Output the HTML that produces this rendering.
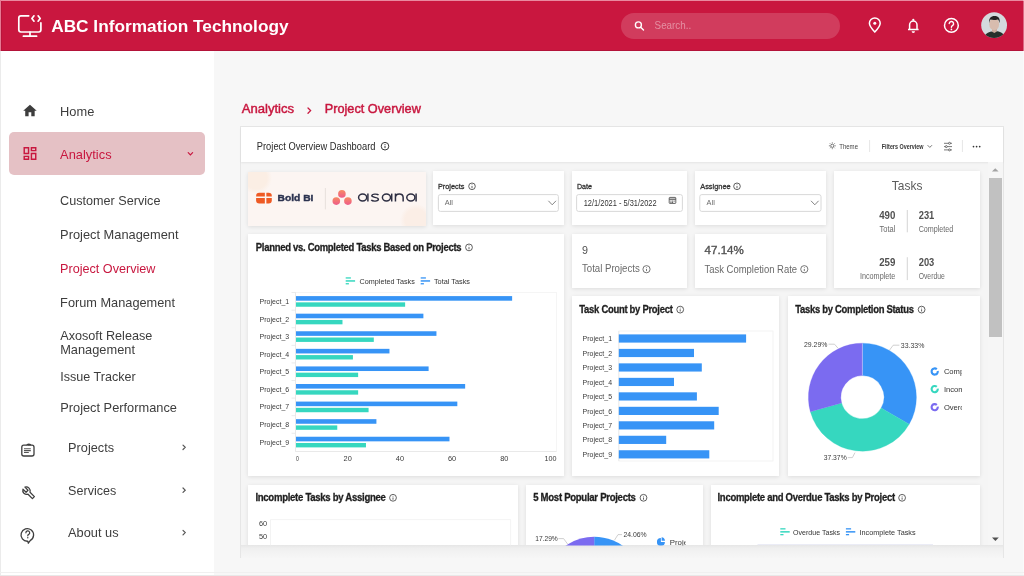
<!DOCTYPE html>
<html><head><meta charset="utf-8">
<style>
*{margin:0;padding:0;box-sizing:border-box}
html,body{width:1024px;height:576px;overflow:hidden;font-family:"Liberation Sans",sans-serif;background:#f7f7f7}
.a{position:absolute}
.card{position:absolute;background:#fff;box-shadow:0 1px 4px rgba(0,0,0,.10)}
svg{position:absolute;left:0;top:0;font-family:"Liberation Sans",sans-serif;will-change:transform}
</style></head><body>
<div class="a" style="left:0;top:0;width:1024px;height:51px;background:#c9173f"></div>
<div class="a" style="left:0;top:0;width:1024px;height:1px;background:#e98aa0"></div>
<div class="a" style="left:0;top:0;width:1px;height:51px;background:#e67a93"></div>
<div class="a" style="left:1px;top:1px;width:1px;height:49px;background:#b8143a"></div>
<div class="a" style="left:1px;top:49.5px;width:1022px;height:1.5px;background:#b31339"></div>
<div class="a" style="left:621px;top:13px;width:219px;height:25.5px;border-radius:13px;background:rgba(255,255,255,.16)"></div>
<div class="a" style="left:0;top:51px;width:214px;height:525px;background:#fff"></div>
<div class="a" style="left:8.5px;top:132px;width:196.5px;height:42.5px;border-radius:5px;background:#e5c1c5"></div>

<div class="a" style="left:240px;top:126px;width:763.5px;height:432px;border:1px solid #e6e6e6;background:#f5f5f5"></div>
<div class="a" style="left:241px;top:127px;width:761.5px;height:35px;background:#fff;box-shadow:0 1px 2px rgba(0,0,0,.07)"></div>
<div class="a" style="left:988px;top:162px;width:14.5px;height:383.5px;background:#f6f6f6"></div>
<div class="a" style="left:989px;top:178px;width:12.5px;height:159px;background:#c1c1c1"></div>

<div class="card" style="left:247.5px;top:172px;width:178px;height:53.5px;background:radial-gradient(circle at 8px 6px,#fbeee4 0,#fbeee4 11px,rgba(252,245,241,0) 16px),radial-gradient(circle at 168px 48px,#fbeee6 0,#fbeee6 11px,rgba(252,245,241,0) 16px),#fcf5f2"></div>
<div class="card" style="left:433px;top:171px;width:131px;height:54px"></div>
<div class="card" style="left:572px;top:171px;width:115px;height:54px"></div>
<div class="card" style="left:695px;top:171px;width:131px;height:54px"></div>
<div class="card" style="left:834px;top:171px;width:146px;height:117px"></div>
<div class="card" style="left:248px;top:234px;width:316px;height:242.2px"></div>
<div class="card" style="left:572px;top:234px;width:115px;height:54px"></div>
<div class="card" style="left:695px;top:234px;width:131px;height:54px"></div>
<div class="card" style="left:572px;top:296px;width:207.2px;height:180px"></div>
<div class="card" style="left:788px;top:296px;width:192px;height:180px"></div>
<div class="a" style="left:241px;top:162px;width:747px;height:383.5px;overflow:hidden">
<div class="card" style="left:7px;top:322.5px;width:269.5px;height:70px"></div>
<div class="card" style="left:285px;top:322.5px;width:176.5px;height:70px"></div>
<div class="card" style="left:470px;top:322.5px;width:268.5px;height:70px"></div>
</div>
<div class="a" style="left:241px;top:545px;width:762px;height:12.5px;background:linear-gradient(#e6e6e6,#efefef 25%,#f3f3f3 60%,#f6f6f6)"></div>
<div class="a" style="left:0;top:51px;width:1px;height:525px;background:#ebebeb"></div>
<div class="a" style="left:1022.5px;top:0;width:1.5px;height:576px;background:rgba(255,255,255,.35)"></div>
<div class="a" style="left:0;top:572px;width:1024px;height:1px;background:#f0f0f0"></div>
<div class="a" style="left:0;top:575px;width:1024px;height:1px;background:#e8e8e8"></div>
<svg width="1024" height="576" viewBox="0 0 1024 576">
<g fill="none" stroke="#fff" stroke-width="1.7" stroke-linecap="round" stroke-linejoin="round"><path d="M28.7 15.8H21a2.2 2.2 0 0 0-2.2 2.2V29.8a2.2 2.2 0 0 0 2.2 2.2H38.7a2.2 2.2 0 0 0 2.2-2.2V22.8"/><path d="M30 32.2V36.1M23.4 36.2H36.6"/><path d="M34 15.8L31.9 18.5L34 21.2M38.1 15.8L40.2 18.5L38.1 21.2"/></g>
<g fill="none" stroke="#fff" stroke-width="1.4" stroke-linecap="round"><circle cx="638.4" cy="24.9" r="3"/><path d="M640.7 27.2L643.5 30"/></g>
<g fill="none" stroke="#fff" stroke-width="1.5"><path d="M874.8 32C870.6 27.6 869.4 25.3 869.4 23.3a5.4 5.4 0 0 1 10.8 0c0 2-1.2 4.3-5.4 8.7z"/></g><circle cx="874.8" cy="23.3" r="1.5" fill="#fff"/>
<g fill="none" stroke="#fff" stroke-width="1.5" stroke-linejoin="round"><path d="M908 29.6H918.6M909.6 29.4V24.8a3.7 3.7 0 0 1 7.4 0V29.4"/></g><circle cx="913.3" cy="19.8" r="1.1" fill="#fff"/><path d="M911.6 31.3a1.7 1.7 0 0 0 3.4 0z" fill="#fff"/>
<circle cx="951.4" cy="25.4" r="6.9" fill="none" stroke="#fff" stroke-width="1.5"/><path d="M949.2 23.6a2.2 2.2 0 1 1 3.2 2c-.8.4-1 .9-1 1.7" fill="none" stroke="#fff" stroke-width="1.4" stroke-linecap="round"/><circle cx="951.4" cy="29.4" r=".85" fill="#fff"/>
<clipPath id="av"><circle cx="994.1" cy="25.2" r="12.9"/></clipPath><g clip-path="url(#av)"><rect x="980" y="12" width="28" height="28" fill="#d4dadd"/><rect x="992" y="28" width="5" height="5" fill="#c9ab9c"/><ellipse cx="994.2" cy="24.2" rx="4.9" ry="6.2" fill="#d8bcae"/><path d="M989.2 23.2C988.6 18.4 990.8 16.1 994.6 16.1C998.4 16.1 1000.4 18.6 999.6 23.2C999.2 21 998.6 19.6 997.6 19.4C995.6 20.2 992.6 20.2 990.6 19.6C989.8 20.2 989.4 21.6 989.2 23.2z" fill="#232323"/><path d="M983 40C984 34.4 987.6 32.2 991.6 31.4L994.4 33L997.2 31.2C1001.6 32 1005 34.2 1006 40z" fill="#26302b"/></g>
<path transform="translate(21.85 102.7) scale(0.675)" d="M10 20v-6h4v6h5v-8h3L12 3 2 12h3v8z" fill="#3d3d3d"/>
<path transform="translate(21.34 144.84) scale(0.72)" d="M19 5v2h-4V5h4M9 5v6H5V5h4m10 8v6h-4v-6h4M9 17v2H5v-2h4M21 3h-8v6h8V3zM11 3H3v10h8V3zm10 8h-8v10h8V11zm-10 4H3v6h8v-6z" fill="#c8173f"/>
<path d="M188.2 152.6L190.4 154.8L192.6 152.6" fill="none" stroke="#c8173f" stroke-width="1.2" stroke-linecap="round"/>
<g fill="none" stroke="#3d3d3d" stroke-width="1.3"><rect x="21.8" y="445.2" width="12.2" height="10.8" rx="2"/></g><path d="M26.3 445.2a2.5 1.6 0 0 1 5 0z" fill="#3d3d3d"/><circle cx="27.6" cy="446.4" r=".6" fill="#fff"/><g stroke="#555" stroke-width="1.1"><path d="M24 448.7H30.8M24 450.6H30.8M24 452.5H28.8"/></g>
<g transform="translate(28.6 492.8) rotate(-45)"><path d="M-1.4 -2.2V-6.6a4.2 4.2 0 0 0-2.2 3.6 4.2 4.2 0 0 0 2.2 3.6V6.8H1.4V0.6a4.2 4.2 0 0 0 2.2-3.6 4.2 4.2 0 0 0-2.2-3.6V-2.2z" fill="none" stroke="#3d3d3d" stroke-width="1.25" stroke-linejoin="round"/></g>
<path d="M27.8 541.2a6.3 6.3 0 1 1 2.6-.8L28.3 543.2z" fill="none" stroke="#3d3d3d" stroke-width="1.3" stroke-linejoin="round"/><path d="M25.9 532.8a1.9 1.9 0 1 1 2.8 1.6c-.6.3-.9.7-.9 1.4" fill="none" stroke="#3d3d3d" stroke-width="1.2" stroke-linecap="round"/><circle cx="27.8" cy="537.7" r=".7" fill="#3d3d3d"/>
<path d="M183 445.1L185.2 447.3L183 449.5" fill="none" stroke="#555" stroke-width="1.2" stroke-linecap="round"/>
<path d="M183 488.0L185.2 490.2L183 492.4" fill="none" stroke="#555" stroke-width="1.2" stroke-linecap="round"/>
<path d="M183 530.4L185.2 532.6L183 534.8000000000001" fill="none" stroke="#555" stroke-width="1.2" stroke-linecap="round"/>
<path d="M308 108L310.6 110.6L308 113.2" fill="none" stroke="#c8173f" stroke-width="1.3" stroke-linecap="round"/>
<circle cx="385" cy="146.2" r="3.8" fill="none" stroke="#333" stroke-width="1.0"/><path d="M385 145.89999999999998V148.1" stroke="#333" stroke-width="1.0"/><circle cx="385" cy="144.6" r="0.55" fill="#333"/>
<g stroke="#555" stroke-width="0.8" fill="none"><circle cx="832.3" cy="145.8" r="1.6"/><path d="M834.70 145.80L835.70 145.80"/><path d="M834.00 147.50L834.70 148.20"/><path d="M832.30 148.20L832.30 149.20"/><path d="M830.60 147.50L829.90 148.20"/><path d="M829.90 145.80L828.90 145.80"/><path d="M830.60 144.10L829.90 143.40"/><path d="M832.30 143.40L832.30 142.40"/><path d="M834.00 144.10L834.70 143.40"/></g>
<path d="M869.6 140V152M962.4 140V152" stroke="#e6e6e6" stroke-width="1"/>
<path d="M927.6 145.2L929.8 147.4L932 145.2" fill="none" stroke="#555" stroke-width="0.8"/>
<g stroke="#555" stroke-width="0.8"><path d="M944 143.3H952M944 146.6H952M944 149.9H952"/></g><g fill="#fff" stroke="#555" stroke-width="0.8"><circle cx="949.5" cy="143.3" r="1"/><circle cx="946.3" cy="146.6" r="1"/><circle cx="949.5" cy="149.9" r="1"/></g>
<circle cx="973.5" cy="146.6" r="0.85" fill="#333"/>
<circle cx="976.6" cy="146.6" r="0.85" fill="#333"/>
<circle cx="979.7" cy="146.6" r="0.85" fill="#333"/>
<rect x="256.1" y="192.8" width="15.7" height="10.6" rx="3.2" fill="#ee5a24"/><path d="M265.6 192V204.2M255.5 197.35H272.5" stroke="#fcf5f2" stroke-width="1.5"/>
<path d="M325.4 188V209.4" stroke="#e2dcd8" stroke-width="0.8"/>
<linearGradient id="asg" x1="0" y1="0" x2="0" y2="1"><stop offset="0" stop-color="#f78a62"/><stop offset="1" stop-color="#ee5b8a"/></linearGradient><g fill="url(#asg)"><circle cx="341.9" cy="193.9" r="3.8"/><circle cx="336.3" cy="201.1" r="3.8"/><circle cx="347.9" cy="201.1" r="3.8"/></g>
<circle cx="472" cy="186.3" r="3.3" fill="none" stroke="#444" stroke-width="0.85"/><path d="M472 186.0V188.20000000000002" stroke="#444" stroke-width="0.85"/><circle cx="472" cy="184.70000000000002" r="0.4675" fill="#444"/>
<circle cx="737" cy="186.3" r="3.3" fill="none" stroke="#444" stroke-width="0.85"/><path d="M737 186.0V188.20000000000002" stroke="#444" stroke-width="0.85"/><circle cx="737" cy="184.70000000000002" r="0.4675" fill="#444"/>
<rect x="438.4" y="194.6" width="120.0" height="16.8" rx="2" fill="#fff" stroke="#d4d4d4" stroke-width="0.9"/>
<path d="M548.4 200.8L552.1999999999999 204.8L556.0 200.8" fill="none" stroke="#777" stroke-width="0.9"/>
<rect x="699.8" y="194.6" width="121.20000000000005" height="16.8" rx="2" fill="#fff" stroke="#d4d4d4" stroke-width="0.9"/>
<path d="M811 200.8L814.8 204.8L818.6 200.8" fill="none" stroke="#777" stroke-width="0.9"/>
<rect x="576.6" y="194.6" width="105.8" height="16.8" rx="2" fill="#fff" stroke="#d4d4d4" stroke-width="0.9"/>
<g fill="none" stroke="#555" stroke-width="0.9"><rect x="669.2" y="197.4" width="6.6" height="6" rx=".6"/></g><path d="M669.2 199.2H675.8" stroke="#555" stroke-width="1.2"/><g fill="#555"><rect x="670.4" y="200.6" width="1.1" height="1"/><rect x="672" y="200.6" width="1.1" height="1"/><rect x="673.6" y="200.6" width="1.1" height="1"/><rect x="670.4" y="202.1" width="1.1" height=".9"/><rect x="672" y="202.1" width="1.1" height=".9"/></g>
<path d="M907.3 210V232.3M907.3 257.2V280.1" stroke="#d0d0d0" stroke-width="0.9"/>
<circle cx="646.5" cy="269.2" r="3.6" fill="none" stroke="#666" stroke-width="0.9"/><path d="M646.5 268.9V271.09999999999997" stroke="#666" stroke-width="0.9"/><circle cx="646.5" cy="267.59999999999997" r="0.49500000000000005" fill="#666"/>
<circle cx="804.3" cy="269.2" r="3.6" fill="none" stroke="#666" stroke-width="0.9"/><path d="M804.3 268.9V271.09999999999997" stroke="#666" stroke-width="0.9"/><circle cx="804.3" cy="267.59999999999997" r="0.49500000000000005" fill="#666"/>
<circle cx="469" cy="247.4" r="3.4" fill="none" stroke="#444" stroke-width="0.85"/><path d="M469 247.1V249.3" stroke="#444" stroke-width="0.85"/><circle cx="469" cy="245.8" r="0.4675" fill="#444"/>
<circle cx="680.2" cy="309.6" r="3.4" fill="none" stroke="#444" stroke-width="0.85"/><path d="M680.2 309.3V311.5" stroke="#444" stroke-width="0.85"/><circle cx="680.2" cy="308.0" r="0.4675" fill="#444"/>
<circle cx="921.6" cy="309.6" r="3.4" fill="none" stroke="#444" stroke-width="0.85"/><path d="M921.6 309.3V311.5" stroke="#444" stroke-width="0.85"/><circle cx="921.6" cy="308.0" r="0.4675" fill="#444"/>
<circle cx="393" cy="497.8" r="3.4" fill="none" stroke="#444" stroke-width="0.85"/><path d="M393 497.5V499.7" stroke="#444" stroke-width="0.85"/><circle cx="393" cy="496.2" r="0.4675" fill="#444"/>
<circle cx="643.5" cy="497.8" r="3.4" fill="none" stroke="#444" stroke-width="0.85"/><path d="M643.5 497.5V499.7" stroke="#444" stroke-width="0.85"/><circle cx="643.5" cy="496.2" r="0.4675" fill="#444"/>
<circle cx="902.1" cy="497.8" r="3.4" fill="none" stroke="#444" stroke-width="0.85"/><path d="M902.1 497.5V499.7" stroke="#444" stroke-width="0.85"/><circle cx="902.1" cy="496.2" r="0.4675" fill="#444"/>
<rect x="295.5" y="292.5" width="261.0" height="159.0" fill="none" stroke="#f3f3f3" stroke-width="0.8"/>
<path d="M295.5 292.5V451.5M295.5 451.5H556.5" stroke="#e6e6e6" stroke-width="0.8"/><path d="M291.5 292.5H295.5" stroke="#e6e6e6" stroke-width="0.8"/>
<g fill="#36d7bf"><rect x="345.7" y="277.3" width="5.2" height="1.3"/><rect x="345.7" y="280.2" width="9.4" height="1.5"/><rect x="345.7" y="283.1" width="3.2" height="1.3"/></g>
<g fill="#3794f6"><rect x="420.7" y="277.3" width="5.2" height="1.3"/><rect x="420.7" y="280.2" width="9.4" height="1.5"/><rect x="420.7" y="283.1" width="3.2" height="1.3"/></g>
<rect x="296.0" y="296.10" width="216.13" height="4.6" fill="#3794f6"/>
<rect x="296.0" y="302.35" width="109.12" height="4.4" fill="#36d7bf"/>
<path d="M291.5 310.19H295.5" stroke="#e6e6e6" stroke-width="0.8"/>
<rect x="296.0" y="313.68" width="127.39" height="4.6" fill="#3794f6"/>
<rect x="296.0" y="319.93" width="46.48" height="4.4" fill="#36d7bf"/>
<path d="M291.5 327.77H295.5" stroke="#e6e6e6" stroke-width="0.8"/>
<rect x="296.0" y="331.26" width="140.44" height="4.6" fill="#3794f6"/>
<rect x="296.0" y="337.51" width="77.80" height="4.4" fill="#36d7bf"/>
<path d="M291.5 345.35H295.5" stroke="#e6e6e6" stroke-width="0.8"/>
<rect x="296.0" y="348.84" width="93.46" height="4.6" fill="#3794f6"/>
<rect x="296.0" y="355.09" width="56.92" height="4.4" fill="#36d7bf"/>
<path d="M291.5 362.93H295.5" stroke="#e6e6e6" stroke-width="0.8"/>
<rect x="296.0" y="366.42" width="132.61" height="4.6" fill="#3794f6"/>
<rect x="296.0" y="372.67" width="62.14" height="4.4" fill="#36d7bf"/>
<path d="M291.5 380.51H295.5" stroke="#e6e6e6" stroke-width="0.8"/>
<rect x="296.0" y="384.00" width="169.15" height="4.6" fill="#3794f6"/>
<rect x="296.0" y="390.25" width="62.14" height="4.4" fill="#36d7bf"/>
<path d="M291.5 398.09H295.5" stroke="#e6e6e6" stroke-width="0.8"/>
<rect x="296.0" y="401.58" width="161.32" height="4.6" fill="#3794f6"/>
<rect x="296.0" y="407.83" width="72.58" height="4.4" fill="#36d7bf"/>
<path d="M291.5 415.67H295.5" stroke="#e6e6e6" stroke-width="0.8"/>
<rect x="296.0" y="419.16" width="80.41" height="4.6" fill="#3794f6"/>
<rect x="296.0" y="425.41" width="41.26" height="4.4" fill="#36d7bf"/>
<path d="M291.5 433.25H295.5" stroke="#e6e6e6" stroke-width="0.8"/>
<rect x="296.0" y="436.74" width="153.49" height="4.6" fill="#3794f6"/>
<rect x="296.0" y="442.99" width="69.97" height="4.4" fill="#36d7bf"/>
<rect x="618.8" y="331" width="154.20000000000005" height="130" fill="none" stroke="#f1f1f1" stroke-width="0.8"/>
<path d="M618.8 331V461" stroke="#e8e8e8" stroke-width="0.8"/>
<rect x="618.8" y="334.40" width="127.30" height="8.2" fill="#3794f6"/>
<rect x="618.8" y="348.88" width="75.20" height="8.2" fill="#3794f6"/>
<rect x="618.8" y="363.36" width="83.00" height="8.2" fill="#3794f6"/>
<rect x="618.8" y="377.84" width="55.20" height="8.2" fill="#3794f6"/>
<rect x="618.8" y="392.32" width="78.10" height="8.2" fill="#3794f6"/>
<rect x="618.8" y="406.80" width="99.90" height="8.2" fill="#3794f6"/>
<rect x="618.8" y="421.28" width="95.40" height="8.2" fill="#3794f6"/>
<rect x="618.8" y="435.76" width="47.40" height="8.2" fill="#3794f6"/>
<rect x="618.8" y="450.24" width="90.50" height="8.2" fill="#3794f6"/>
<path d="M862.40 343.20A54 54 0 0 1 909.17 424.20L881.11 408.00A21.6 21.6 0 0 0 862.40 375.60z" fill="#3794f6" stroke="#3794f6" stroke-width="0.3"/>
<path d="M909.17 424.20A54 54 0 0 1 810.36 411.63L841.59 402.97A21.6 21.6 0 0 0 881.11 408.00z" fill="#36d7bf" stroke="#36d7bf" stroke-width="0.3"/>
<path d="M810.36 411.63A54 54 0 0 1 862.40 343.20L862.40 375.60A21.6 21.6 0 0 0 841.59 402.97z" fill="#7b6bf0" stroke="#7b6bf0" stroke-width="0.3"/>
<path d="M862.4 343.2V375.59999999999997" stroke="#c8d0f8" stroke-width="0.6"/>
<g fill="none" stroke="#bbb" stroke-width="0.7"><path d="M828.6 344.2H834.5L838 348.2"/><path d="M899.4 345.2H893.2L889.6 350"/><path d="M847.8 457.6H852.4L855 452.6"/></g>
<circle cx="934.7" cy="371.5" r="3.1" fill="none" stroke="#3794f6" stroke-width="2.1" stroke-dasharray="17 2.5" transform="rotate(-10 934.7 371.5)"/>
<circle cx="934.7" cy="389.1" r="3.1" fill="none" stroke="#36d7bf" stroke-width="2.1" stroke-dasharray="17 2.5" transform="rotate(-10 934.7 389.1)"/>
<circle cx="934.7" cy="407.2" r="3.1" fill="none" stroke="#7b6bf0" stroke-width="2.1" stroke-dasharray="17 2.5" transform="rotate(-10 934.7 407.2)"/>
<clipPath id="lg"><rect x="940" y="360" width="22" height="60"/></clipPath>
<g clip-path="url(#lg)">
<text x="943.9" y="373.8" style="font-size:7.6px;fill:#333">Completed</text>
<text x="943.9" y="391.5" style="font-size:7.6px;fill:#333">Incomplete</text>
<text x="943.9" y="409.6" style="font-size:7.6px;fill:#333">Overdue</text>
</g><clipPath id="lg2"><rect x="666" y="530" width="19.5" height="15.5"/></clipPath><g clip-path="url(#lg2)">
<text x="669.8" y="545.3" style="font-size:7.8px;fill:#333">Project_1</text>
</g>
<clipPath id="bt"><rect x="240" y="162" width="748" height="383.5"/></clipPath>
<g clip-path="url(#bt)">
<path d="M270.5 519.6H510.6" stroke="#f0f0f0" stroke-width="0.8"/><path d="M270.5 519.6V546M510.6 519.6V546" stroke="#f0f0f0" stroke-width="0.8"/>
<path d="M594.2 586.8V536.8A50 50 0 0 1 644.11 583.83z" fill="#3794f6"/>
<path d="M594.2 586.8V536.8A50 50 0 0 0 549.97 563.48z" fill="#7b6bf0"/>
<g fill="none" stroke="#bbb" stroke-width="0.7"><path d="M558.4 538.6H563.6L567.6 544"/><path d="M622 534.6H618L614.6 540"/></g>
<path d="M757.5 544.6H933" stroke="#e6e8f4" stroke-width="0.9"/>
<path d="M660.9 538v4h4a4 4 0 1 1-4-4z" fill="#3794f6"/><path d="M661.6 537.3a4 4 0 0 1 3.4 3.4h-3.4z" fill="#3794f6"/>
</g>
<g fill="#36d7bf"><rect x="780.3" y="528.2" width="5.2" height="1.3"/><rect x="780.3" y="531.1" width="9.4" height="1.5"/><rect x="780.3" y="534.0" width="3.2" height="1.3"/></g>
<g fill="#3794f6"><rect x="845.9" y="528.2" width="5.2" height="1.3"/><rect x="845.9" y="531.1" width="9.4" height="1.5"/><rect x="845.9" y="534.0" width="3.2" height="1.3"/></g>
<path d="M991.9 171.6H998.6L995.25 168.2z" fill="#a3a3a3"/>
<path d="M992 537.4H998.8L995.4 540.9z" fill="#505050"/>
<text transform="translate(277.6 200.9) scale(1.22 1)" style="font-size:8.4px;font-weight:bold;fill:#2c3350;stroke:#2c3350;stroke-width:0.35px">Bold BI</text><ellipse cx="362.65" cy="197.5" rx="4.05" ry="3.4" fill="none" stroke="#2d2e42" stroke-width="1.5"/><path d="M367.9 193.6V201.5" stroke="#2d2e42" stroke-width="1.5"/><ellipse cx="386.45" cy="197.5" rx="4.05" ry="3.4" fill="none" stroke="#2d2e42" stroke-width="1.5"/><path d="M391.7 193.6V201.5" stroke="#2d2e42" stroke-width="1.5"/><ellipse cx="410.85" cy="197.5" rx="4.05" ry="3.4" fill="none" stroke="#2d2e42" stroke-width="1.5"/><path d="M416.1 193.6V201.5" stroke="#2d2e42" stroke-width="1.5"/><path d="M378.5 195.2C377.7 193.8 371.79999999999995 193.6 371.79999999999995 195.8C371.79999999999995 197.7 378.4 197 378.4 199.3C378.4 201.7 372.09999999999997 201.5 371.29999999999995 199.9" fill="none" stroke="#2d2e42" stroke-width="1.45"/><path d="M395.45 193.6V201.5M395.45 197.6C395.45 195.1 397.2 193.9 399.3 193.9C401.4 193.9 403.15 195.1 403.15 197.6V201.5" fill="none" stroke="#2d2e42" stroke-width="1.5"/>
<text transform="translate(51.20 32.3) scale(1.0402 1)" style="font-size:16.6px;font-weight:bold;fill:#fff;letter-spacing:0px">ABC Information Technology</text>
<text transform="translate(654.60 29.4) scale(0.9100 1)" style="font-size:10.8px;font-weight:normal;fill:rgba(255,255,255,0.42);letter-spacing:0px">Search..</text>
<text transform="translate(60.10 116.1) scale(1.0017 1)" style="font-size:12.8px;font-weight:normal;fill:#3d3d3d;letter-spacing:0px">Home</text>
<text transform="translate(60.10 158.6) scale(1.0055 1)" style="font-size:12.8px;font-weight:normal;fill:#c8173f;letter-spacing:0px">Analytics</text>
<text transform="translate(60.10 205.3) scale(0.9872 1)" style="font-size:12.8px;font-weight:normal;fill:#3d3d3d;letter-spacing:0px">Customer Service</text>
<text transform="translate(60.10 239.2) scale(1.0036 1)" style="font-size:12.8px;font-weight:normal;fill:#3d3d3d;letter-spacing:0px">Project Management</text>
<text transform="translate(60.10 272.6) scale(0.9864 1)" style="font-size:12.8px;font-weight:normal;fill:#c8173f;letter-spacing:0px">Project Overview</text>
<text transform="translate(60.10 306.5) scale(0.9980 1)" style="font-size:12.8px;font-weight:normal;fill:#3d3d3d;letter-spacing:0px">Forum Management</text>
<text transform="translate(60.20 339.6) scale(0.9894 1)" style="font-size:12.8px;font-weight:normal;fill:#3d3d3d;letter-spacing:0px">Axosoft Release</text>
<text transform="translate(60.20 354.4) scale(1.0013 1)" style="font-size:12.8px;font-weight:normal;fill:#3d3d3d;letter-spacing:0px">Management</text>
<text transform="translate(60.20 380.8) scale(0.9829 1)" style="font-size:12.8px;font-weight:normal;fill:#3d3d3d;letter-spacing:0px">Issue Tracker</text>
<text transform="translate(60.20 412.4) scale(1.0014 1)" style="font-size:12.8px;font-weight:normal;fill:#3d3d3d;letter-spacing:0px">Project Performance</text>
<text transform="translate(68.10 452) scale(0.9949 1)" style="font-size:12.8px;font-weight:normal;fill:#3d3d3d;letter-spacing:0px">Projects</text>
<text transform="translate(68.10 495) scale(0.9821 1)" style="font-size:12.8px;font-weight:normal;fill:#3d3d3d;letter-spacing:0px">Services</text>
<text transform="translate(68.10 537.2) scale(0.9997 1)" style="font-size:12.8px;font-weight:normal;fill:#3d3d3d;letter-spacing:0px">About us</text>
<text transform="translate(241.70 113.2) scale(1.0090 1)" style="font-size:13px;fill:#c8173f;stroke:#c8173f;stroke-width:0.45px">Analytics</text>
<text transform="translate(324.70 113.2) scale(0.9791 1)" style="font-size:13px;fill:#c8173f;stroke:#c8173f;stroke-width:0.45px">Project Overview</text>
<text transform="translate(256.80 149.9) scale(0.9146 1)" style="font-size:10.2px;font-weight:normal;fill:#2a2a2a;letter-spacing:0px">Project Overview Dashboard</text>
<text transform="translate(839.20 149.2) scale(0.7952 1)" style="font-size:7.6px;font-weight:normal;fill:#444;letter-spacing:0px">Theme</text>
<text transform="translate(881.80 149.2) scale(0.7284 1)" style="font-size:7.4px;font-weight:bold;fill:#333;letter-spacing:0px">Filters Overview</text>
<text transform="translate(438.00 188.9) scale(0.9371 1)" style="font-size:7.8px;fill:#333;stroke:#333;stroke-width:0.3px">Projects</text>
<text transform="translate(444.70 205.2) scale(1.0538 1)" style="font-size:7px;font-weight:normal;fill:#6a6a6a;letter-spacing:0px">All</text>
<text transform="translate(577.00 188.9) scale(0.9100 1)" style="font-size:7.8px;fill:#333;stroke:#333;stroke-width:0.3px">Date</text>
<text transform="translate(583.70 206.4) scale(0.9098 1)" style="font-size:8.2px;font-weight:normal;fill:#333;letter-spacing:0px">12/1/2021 - 5/31/2022</text>
<text transform="translate(700.20 188.9) scale(0.9508 1)" style="font-size:7.8px;fill:#333;stroke:#333;stroke-width:0.3px">Assignee</text>
<text transform="translate(706.60 205.2) scale(1.0538 1)" style="font-size:7px;font-weight:normal;fill:#6a6a6a;letter-spacing:0px">All</text>
<text transform="translate(891.80 189.7) scale(0.9734 1)" style="font-size:12.3px;font-weight:normal;fill:#5c5c5c;letter-spacing:0px">Tasks</text>
<text transform="translate(879.20 219) scale(0.9708 1)" style="font-size:10px;font-weight:bold;fill:#505050;letter-spacing:0px">490</text>
<text transform="translate(879.50 232) scale(0.9192 1)" style="font-size:8.2px;font-weight:normal;fill:#6a6a6a;letter-spacing:0px">Total</text>
<text transform="translate(918.70 219) scale(0.9348 1)" style="font-size:10px;font-weight:bold;fill:#505050;letter-spacing:0px">231</text>
<text transform="translate(918.70 232) scale(0.8735 1)" style="font-size:8.2px;font-weight:normal;fill:#6a6a6a;letter-spacing:0px">Completed</text>
<text transform="translate(879.20 266.3) scale(0.9708 1)" style="font-size:10px;font-weight:bold;fill:#505050;letter-spacing:0px">259</text>
<text transform="translate(859.90 279.3) scale(0.8861 1)" style="font-size:8.2px;font-weight:normal;fill:#6a6a6a;letter-spacing:0px">Incomplete</text>
<text transform="translate(918.70 266.3) scale(0.9348 1)" style="font-size:10px;font-weight:bold;fill:#505050;letter-spacing:0px">203</text>
<text transform="translate(918.70 279.3) scale(0.8279 1)" style="font-size:8.2px;font-weight:normal;fill:#6a6a6a;letter-spacing:0px">Overdue</text>
<text transform="translate(582.00 254) scale(0.9366 1)" style="font-size:11.5px;font-weight:normal;fill:#505050;letter-spacing:0px">9</text>
<text transform="translate(582.00 271.9) scale(0.9089 1)" style="font-size:10.6px;font-weight:normal;fill:#6a6a6a;letter-spacing:0px">Total Projects</text>
<text transform="translate(704.60 254) scale(1.0613 1)" style="font-size:10.9px;fill:#505050;stroke:#505050;stroke-width:0.35px">47.14%</text>
<text transform="translate(704.50 272.5) scale(0.8935 1)" style="font-size:10.6px;font-weight:normal;fill:#6a6a6a;letter-spacing:0px">Task Completion Rate</text>
<text transform="translate(255.80 250.7) scale(0.9292 1)" style="font-size:10.2px;font-weight:bold;fill:#1f1f1f;letter-spacing:-0.3px;stroke:#1f1f1f;stroke-width:0.3px">Planned vs. Completed Tasks Based on Projects</text>
<text transform="translate(579.30 312.8) scale(0.9274 1)" style="font-size:10.2px;font-weight:bold;fill:#1f1f1f;letter-spacing:-0.3px;stroke:#1f1f1f;stroke-width:0.3px">Task Count by Project</text>
<text transform="translate(795.30 312.8) scale(0.9259 1)" style="font-size:10.2px;font-weight:bold;fill:#1f1f1f;letter-spacing:-0.3px;stroke:#1f1f1f;stroke-width:0.3px">Tasks by Completion Status</text>
<text transform="translate(255.40 501.2) scale(0.9380 1)" style="font-size:10.2px;font-weight:bold;fill:#1f1f1f;letter-spacing:-0.3px;stroke:#1f1f1f;stroke-width:0.3px">Incomplete Tasks by Assignee</text>
<text transform="translate(533.20 501.2) scale(0.9390 1)" style="font-size:10.2px;font-weight:bold;fill:#1f1f1f;letter-spacing:-0.3px;stroke:#1f1f1f;stroke-width:0.3px">5 Most Popular Projects</text>
<text transform="translate(717.50 501.2) scale(0.9325 1)" style="font-size:10.2px;font-weight:bold;fill:#1f1f1f;letter-spacing:-0.3px;stroke:#1f1f1f;stroke-width:0.3px">Incomplete and Overdue Tasks by Project</text>
<text transform="translate(359.60 284) scale(0.9017 1)" style="font-size:8px;font-weight:normal;fill:#333;letter-spacing:0px">Completed Tasks</text>
<text transform="translate(433.90 284) scale(0.9179 1)" style="font-size:8px;font-weight:normal;fill:#333;letter-spacing:0px">Total Tasks</text>
<text transform="translate(793.10 534.5) scale(0.8813 1)" style="font-size:8px;font-weight:normal;fill:#333;letter-spacing:0px">Overdue Tasks</text>
<text transform="translate(859.50 534.5) scale(0.9113 1)" style="font-size:8px;font-weight:normal;fill:#333;letter-spacing:0px">Incomplete Tasks</text>
<text transform="translate(259.60 304.0) scale(0.9745 1)" style="font-size:7.2px;font-weight:normal;fill:#3a3a3a;letter-spacing:0px">Project_1</text>
<text transform="translate(259.60 321.58) scale(0.9745 1)" style="font-size:7.2px;font-weight:normal;fill:#3a3a3a;letter-spacing:0px">Project_2</text>
<text transform="translate(259.60 339.15999999999997) scale(0.9745 1)" style="font-size:7.2px;font-weight:normal;fill:#3a3a3a;letter-spacing:0px">Project_3</text>
<text transform="translate(259.60 356.74) scale(0.9745 1)" style="font-size:7.2px;font-weight:normal;fill:#3a3a3a;letter-spacing:0px">Project_4</text>
<text transform="translate(259.60 374.32) scale(0.9745 1)" style="font-size:7.2px;font-weight:normal;fill:#3a3a3a;letter-spacing:0px">Project_5</text>
<text transform="translate(259.60 391.9) scale(0.9745 1)" style="font-size:7.2px;font-weight:normal;fill:#3a3a3a;letter-spacing:0px">Project_6</text>
<text transform="translate(259.60 409.48) scale(0.9745 1)" style="font-size:7.2px;font-weight:normal;fill:#3a3a3a;letter-spacing:0px">Project_7</text>
<text transform="translate(259.60 427.06) scale(0.9745 1)" style="font-size:7.2px;font-weight:normal;fill:#3a3a3a;letter-spacing:0px">Project_8</text>
<text transform="translate(259.60 444.64) scale(0.9745 1)" style="font-size:7.2px;font-weight:normal;fill:#3a3a3a;letter-spacing:0px">Project_9</text>
<text transform="translate(296.00 460.6) scale(0.7250 1)" style="font-size:7.2px;font-weight:normal;fill:#3a3a3a;letter-spacing:0px">0</text>
<text transform="translate(343.60 460.6) scale(1.0250 1)" style="font-size:7.2px;font-weight:normal;fill:#3a3a3a;letter-spacing:0px">20</text>
<text transform="translate(395.80 460.6) scale(1.0250 1)" style="font-size:7.2px;font-weight:normal;fill:#3a3a3a;letter-spacing:0px">40</text>
<text transform="translate(448.00 460.6) scale(1.0250 1)" style="font-size:7.2px;font-weight:normal;fill:#3a3a3a;letter-spacing:0px">60</text>
<text transform="translate(500.20 460.6) scale(1.0250 1)" style="font-size:7.2px;font-weight:normal;fill:#3a3a3a;letter-spacing:0px">80</text>
<text transform="translate(544.60 460.6) scale(1.0000 1)" style="font-size:7.2px;font-weight:normal;fill:#3a3a3a;letter-spacing:0px">100</text>
<text transform="translate(582.60 341.1) scale(0.9679 1)" style="font-size:7.2px;font-weight:normal;fill:#3a3a3a;letter-spacing:0px">Project_1</text>
<text transform="translate(582.60 355.58000000000004) scale(0.9679 1)" style="font-size:7.2px;font-weight:normal;fill:#3a3a3a;letter-spacing:0px">Project_2</text>
<text transform="translate(582.60 370.06) scale(0.9679 1)" style="font-size:7.2px;font-weight:normal;fill:#3a3a3a;letter-spacing:0px">Project_3</text>
<text transform="translate(582.60 384.54) scale(0.9679 1)" style="font-size:7.2px;font-weight:normal;fill:#3a3a3a;letter-spacing:0px">Project_4</text>
<text transform="translate(582.60 399.02000000000004) scale(0.9679 1)" style="font-size:7.2px;font-weight:normal;fill:#3a3a3a;letter-spacing:0px">Project_5</text>
<text transform="translate(582.60 413.5) scale(0.9679 1)" style="font-size:7.2px;font-weight:normal;fill:#3a3a3a;letter-spacing:0px">Project_6</text>
<text transform="translate(582.60 427.98) scale(0.9679 1)" style="font-size:7.2px;font-weight:normal;fill:#3a3a3a;letter-spacing:0px">Project_7</text>
<text transform="translate(582.60 442.46000000000004) scale(0.9679 1)" style="font-size:7.2px;font-weight:normal;fill:#3a3a3a;letter-spacing:0px">Project_8</text>
<text transform="translate(582.60 456.94000000000005) scale(0.9679 1)" style="font-size:7.2px;font-weight:normal;fill:#3a3a3a;letter-spacing:0px">Project_9</text>
<text transform="translate(804.00 346.8) scale(0.9331 1)" style="font-size:7.4px;font-weight:normal;fill:#3a3a3a;letter-spacing:0px">29.29%</text>
<text transform="translate(900.80 347.8) scale(0.9411 1)" style="font-size:7.4px;font-weight:normal;fill:#3a3a3a;letter-spacing:0px">33.33%</text>
<text transform="translate(823.70 460.2) scale(0.9171 1)" style="font-size:7.4px;font-weight:normal;fill:#3a3a3a;letter-spacing:0px">37.37%</text>
<text transform="translate(259.00 525.6) scale(1.0250 1)" style="font-size:7.2px;font-weight:normal;fill:#3a3a3a;letter-spacing:0px">60</text>
<text transform="translate(259.00 539.1) scale(1.0250 1)" style="font-size:7.2px;font-weight:normal;fill:#3a3a3a;letter-spacing:0px">50</text>
<text transform="translate(535.20 541.2) scale(0.9012 1)" style="font-size:7.4px;font-weight:normal;fill:#3a3a3a;letter-spacing:0px">17.29%</text>
<text transform="translate(623.50 537.3) scale(0.9251 1)" style="font-size:7.4px;font-weight:normal;fill:#3a3a3a;letter-spacing:0px">24.06%</text>
</svg>
</body></html>
